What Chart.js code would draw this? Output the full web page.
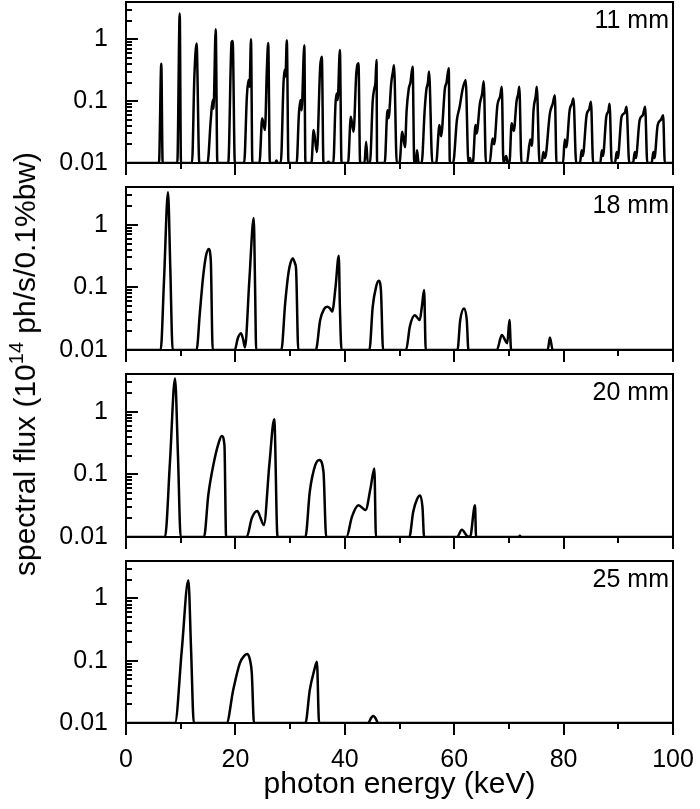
<!DOCTYPE html>
<html>
<head>
<meta charset="utf-8">
<script src="https://cdn.jsdelivr.net/npm/chart.js@4.4.1/dist/chart.umd.min.js"></script>
<style>
  body { margin: 0; background: #fff; }
  #wrap { position: relative; width: 700px; height: 809px; background: #fff; font-family: "Liberation Sans", Arial, sans-serif; }
  #wrap canvas { position: absolute; left: 0; }
  #ytitle {
    position: absolute; left: 25px; top: 364px;
    transform: translate(-50%, -50%) rotate(-90deg);
    white-space: nowrap; font-size: 30px; line-height: 1; color: #000;
  }
  #ytitle sup { font-size: 20px; vertical-align: 0; position: relative; top: -12px; }
</style>
</head>
<body>
<div id="wrap">
  <canvas id="p1" width="700" height="179" style="top:0px"></canvas>
  <canvas id="p2" width="700" height="181" style="top:185px"></canvas>
  <canvas id="p3" width="700" height="181" style="top:372px"></canvas>
  <canvas id="p4" width="700" height="250" style="top:559px"></canvas>
  <div id="ytitle">spectral flux (10<sup>14</sup> ph/s/0.1%bw)</div>
</div>
<script>
// values: photon energy (keV) and spectral flux
const gaps = ["11 mm", "18 mm", "20 mm", "25 mm"];
const yTicks = [0.01, 0.1, 1];
const xTicks = [0, 20, 40, 60, 80, 100];

const energy11 = [0, 6.03, 6.45, 6.7, 9.38, 9.82, 10.05, 12.07, 12.5, 12.9, 13.4,
  14.9, 15.5, 15.85, 16.0, 16.4, 16.7, 18.7, 19.3, 19.5, 19.9,
  21.6, 22.1, 22.4, 22.6, 22.85, 23.1, 24.4, 24.9, 25.4, 25.75, 26.0, 26.3, 27.3, 27.5, 27.7,
  28.3, 28.8, 29.0, 29.15, 29.4, 29.7, 31.2, 31.6, 31.9, 32.1, 32.6, 32.8,
  33.9, 34.3, 34.9, 35.5, 35.8, 36.1, 36.8, 37.0, 37.2,
  37.9, 38.3, 38.5, 38.7, 39.1, 39.4, 40.6, 41.1, 41.6, 42.1, 42.5, 42.8, 43.6, 43.9, 44.2,
  44.6, 45.1, 45.4, 45.6, 45.8, 45.9, 47.3, 47.8, 48.0, 48.5, 48.8, 49.0, 49.5,
  50.0, 50.5, 51.0, 51.3, 51.7, 52.0, 52.4, 52.7, 53.0, 53.2, 53.5,
  54.05, 54.6, 54.9, 55.2, 55.4, 56.0, 56.7, 57.3, 57.6, 58.3, 58.6, 59.0, 59.2,
  59.8, 60.5, 61.0, 61.5, 62.1, 62.6, 62.9, 63.1,
  63.4, 63.9, 64.1, 64.7, 65.1, 65.4, 65.8, 66.5, 67.0, 67.3, 67.9, 68.4, 68.7, 69.0, 69.5, 69.8,
  70.1, 70.5, 70.9, 71.4, 71.7, 71.9, 72.3, 73.3, 73.9, 74.2, 74.5, 74.9, 75.1, 75.6,
  76.0, 76.3, 76.6, 77.5, 78.0, 78.4, 78.7, 79.9, 80.2, 80.5, 81.1, 81.5, 81.8, 82.3,
  83.0, 83.3, 83.5, 84.2, 84.7, 85.0, 85.4, 86.7, 87.0, 87.2, 87.8, 88.2, 88.4, 88.8,
  89.4, 89.7, 89.9, 90.6, 91.2, 91.5, 92.0, 92.7, 93.0, 93.2, 93.9, 94.5, 94.9, 95.3,
  96.1, 96.4, 96.6, 97.2, 97.8, 98.2, 98.5, 100];
const flux11 = [0.01, 0.01, 0.40, 0.01, 0.01, 2.6, 0.01, 0.01, 0.25, 0.85, 0.01,
  0.01, 0.05, 0.104, 0.075, 1.45, 0.01, 0.01, 0.9, 0.94, 0.01,
  0.01, 0.12, 0.22, 0.17, 1.0, 0.01, 0.01, 0.053, 0.034, 0.32, 0.87, 0.01, 0.01, 0.011, 0.01,
  0.01, 0.2, 0.32, 0.25, 0.96, 0.01, 0.01, 0.06, 0.104, 0.071, 0.80, 0.01,
  0.01, 0.034, 0.015, 0.36, 0.52, 0.01, 0.01, 0.0105, 0.01,
  0.01, 0.09, 0.133, 0.104, 0.67, 0.01, 0.01, 0.056, 0.032, 0.28, 0.41, 0.01, 0.01, 0.022, 0.01,
  0.01, 0.1, 0.16, 0.2, 0.46, 0.01, 0.01, 0.071, 0.053, 0.2, 0.3, 0.38, 0.01,
  0.01, 0.032, 0.018, 0.07, 0.16, 0.2, 0.36, 0.01, 0.01, 0.016, 0.01,
  0.01, 0.071, 0.15, 0.2, 0.30, 0.01, 0.01, 0.041, 0.027, 0.16, 0.2, 0.34, 0.01,
  0.01, 0.05, 0.081, 0.15, 0.22, 0.01, 0.012, 0.01,
  0.01, 0.041, 0.03, 0.092, 0.13, 0.21, 0.01, 0.01, 0.025, 0.02, 0.086, 0.12, 0.17, 0.01, 0.013, 0.01,
  0.01, 0.044, 0.033, 0.10, 0.13, 0.17, 0.01, 0.01, 0.024, 0.019, 0.071, 0.12, 0.17, 0.01,
  0.01, 0.015, 0.012, 0.064, 0.09, 0.125, 0.01, 0.01, 0.024, 0.018, 0.071, 0.09, 0.11, 0.01,
  0.01, 0.016, 0.013, 0.059, 0.075, 0.098, 0.01, 0.01, 0.016, 0.013, 0.056, 0.07, 0.091, 0.01,
  0.01, 0.015, 0.012, 0.056, 0.065, 0.081, 0.01, 0.01, 0.015, 0.012, 0.049, 0.06, 0.081, 0.01,
  0.01, 0.015, 0.012, 0.041, 0.05, 0.059, 0.01, 0.01];

const energy18 = [0, 6.34, 6.95, 7.68, 8.1, 8.53,
  12.9, 13.5, 14.1, 14.6, 15.1, 15.5, 15.85,
  19.9, 20.4, 21.0, 21.4, 21.75, 22.55, 23.35, 23.6, 23.8,
  28.4, 29.1, 29.7, 30.1, 30.5, 30.9, 31.1, 31.5,
  34.7, 35.5, 36.2, 36.8, 37.3, 37.7, 38.3, 38.9, 39.1, 39.4,
  44.5, 45.1, 45.7, 46.2, 46.6, 47.0,
  51.2, 51.9, 52.8, 53.7, 54.1, 54.5, 54.8,
  60.6, 61.1, 61.8, 62.3, 62.6,
  67.8, 68.7, 69.7, 70.1, 70.4,
  77.1, 77.5, 78.0, 100];
const flux18 = [0.01, 0.01, 0.13, 3.3, 0.2, 0.01,
  0.01, 0.039, 0.148, 0.31, 0.41, 0.27, 0.01,
  0.01, 0.015, 0.0185, 0.015, 0.011, 0.13, 1.28, 0.1, 0.01,
  0.01, 0.056, 0.17, 0.25, 0.29, 0.24, 0.19, 0.01,
  0.01, 0.030, 0.045, 0.049, 0.046, 0.041, 0.1, 0.32, 0.05, 0.01,
  0.01, 0.049, 0.10, 0.127, 0.091, 0.01,
  0.01, 0.024, 0.036, 0.030, 0.05, 0.091, 0.01,
  0.01, 0.030, 0.046, 0.030, 0.01,
  0.01, 0.0174, 0.0128, 0.030, 0.01,
  0.01, 0.0159, 0.01, 0.01];

const energy20 = [0, 7.13, 8.04, 8.96, 9.5, 10.0,
  14.26, 15.05, 15.96, 16.9, 17.5, 18.0, 18.3,
  22.06, 23.0, 24.0, 24.6, 25.2, 26.2, 27.1, 27.7,
  32.8, 33.6, 34.6, 35.35, 36.1, 36.6,
  40.3, 41.3, 42.5, 43.8, 44.7, 45.4, 45.7,
  51.8, 52.5, 53.2, 53.75, 54.2, 54.5,
  60.5, 61.4, 62.3, 62.9, 63.8, 64.0,
  71.8, 72.0, 72.2, 100];
const flux20 = [0.01, 0.01, 0.16, 3.4, 0.2, 0.01,
  0.01, 0.047, 0.14, 0.31, 0.41, 0.29, 0.01,
  0.01, 0.02, 0.026, 0.02, 0.0155, 0.14, 0.76, 0.01,
  0.01, 0.053, 0.14, 0.17, 0.11, 0.01,
  0.01, 0.021, 0.032, 0.027, 0.06, 0.124, 0.01,
  0.01, 0.025, 0.04, 0.046, 0.03, 0.01,
  0.01, 0.013, 0.0105, 0.01, 0.032, 0.01,
  0.01, 0.0105, 0.01, 0.01];

const energy25 = [0, 8.96, 10.2, 11.4, 11.9, 12.4,
  18.4, 19.6, 20.8, 21.6, 22.2, 22.7, 23.0, 23.4,
  32.8, 33.6, 34.4, 34.9, 35.3,
  44.3, 44.8, 45.2, 45.6, 46.1, 100];
const flux25 = [0.01, 0.01, 0.148, 1.97, 0.148, 0.01,
  0.01, 0.034, 0.091, 0.12, 0.128, 0.1, 0.063, 0.01,
  0.01, 0.034, 0.07, 0.096, 0.01,
  0.01, 0.012, 0.013, 0.012, 0.01, 0.01];

const FONT = "Liberation Sans";

// frame, inward log ticks, outward x ticks and the gap label
const framePlugin = {
  id: "frame",
  afterDatasetsDraw(chart, args, opts) {
    const ctx = chart.ctx;
    const a = chart.chartArea;
    const x = chart.scales.x, y = chart.scales.y;
    ctx.save();
    ctx.strokeStyle = "#000";
    ctx.lineWidth = 2;
    ctx.strokeRect(a.left, a.top, a.right - a.left, a.bottom - a.top);
    ctx.beginPath();
    for (let v = 0; v <= 100; v += 10) {
      const px = Math.round(x.getPixelForValue(v));
      const len = v % 20 === 0 ? 12 : 6;
      ctx.moveTo(px, a.bottom);
      ctx.lineTo(px, a.bottom + len);
    }
    yTicks.forEach(d => {
      for (let k = 1; k <= 9; k++) {
        const v = d * k;
        if (v > y.max || (k === 1 && d === y.min)) continue;
        const py = Math.round(y.getPixelForValue(v));
        ctx.moveTo(a.left, py);
        ctx.lineTo(a.left + (k === 1 ? 12 : 6), py);
      }
    });
    ctx.stroke();
    ctx.fillStyle = "#000";
    ctx.font = "25px '" + FONT + "'";
    ctx.textAlign = "right";
    ctx.textBaseline = "alphabetic";
    ctx.fillText(opts.label, a.right - 4, a.top + 26);
    ctx.restore();
  }
};

function makePanel(id, energy, flux, label, isBottom) {
  const points = energy.map((e, i) => ({ x: e, y: flux[i] }));
  return new Chart(document.getElementById(id), {
    type: "line",
    data: {
      datasets: [{
        data: points,
        borderColor: "#000",
        borderWidth: 2.5,
        pointRadius: 0,
        cubicInterpolationMode: "monotone",
        fill: false
      }]
    },
    options: {
      responsive: false,
      animation: false,
      layout: { padding: { top: 2, right: 27, left: 0, bottom: 0 } },
      plugins: {
        legend: { display: false },
        tooltip: { enabled: false },
        frame: { label: label }
      },
      scales: {
        x: {
          type: "linear", min: 0, max: 100,
          grid: { display: false },
          border: { display: false },
          afterBuildTicks: s => { s.ticks = xTicks.map(v => ({ value: v })); },
          ticks: { display: isBottom, color: "#000", padding: 14, maxRotation: 0, autoSkip: false,
                   font: { family: FONT, size: 25 } },
          title: { display: isBottom, text: "photon energy (keV)", color: "#000",
                   font: { family: FONT, size: 30 }, padding: { top: 0, bottom: 6 } },
          afterFit: s => { s.height = isBottom ? 86 : 16; s.paddingLeft = 0; s.paddingRight = 0; }
        },
        y: {
          type: "logarithmic", min: 0.01, max: 4,
          grid: { display: false },
          border: { display: false },
          afterBuildTicks: s => { s.ticks = yTicks.map(v => ({ value: v })); },
          ticks: { color: "#000", padding: 10, font: { family: FONT, size: 25 },
                   callback: v => String(v) },
          afterFit: s => { s.width = 126; s.paddingTop = 0; s.paddingBottom = 0; }
        }
      }
    },
    plugins: [framePlugin]
  });
}

makePanel("p1", energy11, flux11, gaps[0], false);
makePanel("p2", energy18, flux18, gaps[1], false);
makePanel("p3", energy20, flux20, gaps[2], false);
makePanel("p4", energy25, flux25, gaps[3], true);
</script>
</body>
</html>
